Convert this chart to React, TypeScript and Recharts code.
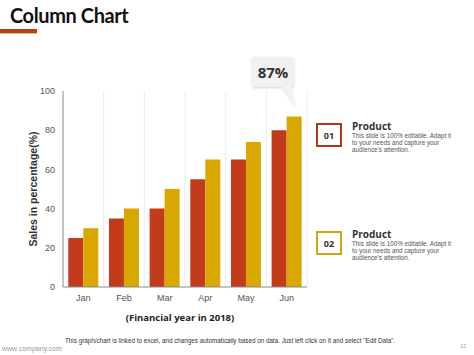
import React from "react";
import { BarChart, Bar, XAxis, YAxis, CartesianGrid } from "recharts";

const months = ["Jan", "Feb", "Mar", "Apr", "May", "Jun"];
const product1 = [25, 35, 40, 55, 65, 80];
const product2 = [30, 40, 50, 65, 74, 87];
const yTicks = [0, 20, 40, 60, 80, 100];

const data = months.map((m, i) => ({ month: m, p1: product1[i], p2: product2[i] }));

const RED = "#c23b1b";
const GOLD = "#d9a800";
const desc = "This slide is 100% editable. Adapt it to your needs and capture your audience's attention.";

const ProductNote: React.FC<{ top: number; num: string; color: string }> = ({ top, num, color }) => (
  <>
    <div
      style={{
        position: "absolute", left: 316, top, width: 22, height: 20,
        border: `2px solid ${color}`, display: "flex", alignItems: "center",
        justifyContent: "center", fontFamily: "Open Sans", fontWeight: 700,
        fontSize: 9, color: "#333", background: "#fff",
      }}
    >
      {num}
    </div>
    <div style={{ position: "absolute", left: 352, top: top - 3, width: 100 }}>
      <div style={{ fontFamily: "Open Sans", fontWeight: 700, fontSize: 10, color: "#333", lineHeight: "12px" }}>
        Product
      </div>
      <div style={{ fontFamily: "Liberation Sans", fontSize: 6.3, color: "#555", lineHeight: "7px" }}>
        {desc}
      </div>
    </div>
  </>
);

export default function App() {
  return (
    <div style={{ position: "relative", width: 474, height: 355, background: "#fff", overflow: "hidden" }}>
      <style>{"body{margin:0}"}</style>

      <div
        style={{
          position: "absolute", left: 10, top: 3, fontFamily: "Lato", fontWeight: 700,
          fontSize: 20, letterSpacing: -0.4, color: "#111",
        }}
      >
        Column Chart
      </div>
      <div style={{ position: "absolute", left: 0, top: 29, width: 37, height: 4, background: RED }} />
      <div style={{ position: "absolute", left: 0, top: 33, width: 37, height: 1, background: "#e3b78a" }} />

      <div style={{ position: "absolute", left: 0, top: 0 }}>
        <BarChart
          width={320}
          height={310}
          data={data}
          margin={{ top: 91, right: 13, left: 23, bottom: 3 }}
          barCategoryGap="13%"
          barGap={0}
        >
          <CartesianGrid
            horizontal={false}
            stroke="#ececec"
            verticalCoordinatesGenerator={({ offset }: any) =>
              months.map((_, i) => offset.left + ((i + 1) * offset.width) / months.length)
            }
          />
          <XAxis
            dataKey="month"
            axisLine={{ stroke: "#8a8a8a" }}
            tickLine={false}
            height={20}
            tick={{ fill: "#555", fontSize: 9, fontFamily: "Liberation Sans" }}
          />
          <YAxis
            width={40}
            domain={[0, 100]}
            ticks={yTicks}
            axisLine={{ stroke: "#8a8a8a" }}
            tickLine={false}
            tick={{ fill: "#555", fontSize: 9, fontFamily: "Liberation Sans" }}
          />
          <Bar dataKey="p1" fill={RED} isAnimationActive={false} />
          <Bar dataKey="p2" fill={GOLD} isAnimationActive={false} />
        </BarChart>
      </div>

      <div
        style={{
          position: "absolute", left: 33, top: 189, transform: "translate(-50%,-50%) rotate(-90deg)",
          whiteSpace: "nowrap", fontFamily: "Liberation Sans", fontWeight: 700, fontSize: 10.5, color: "#333",
        }}
      >
        Sales in percentage(%)
      </div>

      <svg style={{ position: "absolute", left: 0, top: 0 }} width={474} height={355}>
        <defs>
          <filter id="sh" x="-20%" y="-20%" width="140%" height="160%">
            <feDropShadow dx="0" dy="1" stdDeviation="1.2" floodColor="#000" floodOpacity="0.18" />
          </filter>
        </defs>
        <path
          d="M255,57 H291 Q294,57 294,60 V84 Q294,87 291,87 H290 L296,106 L282,87 H255 Q252,87 252,84 V60 Q252,57 255,57 Z"
          fill="#f1f1f1"
          filter="url(#sh)"
        />
        <text x={273} y={78} textAnchor="middle" fontFamily="Open Sans" fontWeight={700} fontSize={15} fill="#333">
          87%
        </text>
      </svg>

      <ProductNote top={123} num="01" color="#a8391f" />
      <ProductNote top={231} num="02" color="#cfa51c" />

      <div
        style={{
          position: "absolute", left: 0, width: 360, top: 311, textAlign: "center",
          fontFamily: "Open Sans", fontWeight: 700, fontSize: 9.5, color: "#222",
        }}
      >
        (Financial year in 2018)
      </div>

      <div style={{ position: "absolute", left: 65, top: 337, fontFamily: "Liberation Sans", fontSize: 6.3, color: "#333", whiteSpace: "nowrap" }}>
        This graph/chart is linked to excel, and changes automatically based on data. Just left click on it and select "Edit Data".
      </div>
      <div style={{ position: "absolute", left: 2, top: 345, fontFamily: "Liberation Sans", fontSize: 7, color: "#999" }}>
        www.company.com
      </div>
      <div style={{ position: "absolute", left: 460, top: 343, fontFamily: "Liberation Sans", fontSize: 5.5, color: "#999" }}>
        12
      </div>
    </div>
  );
}
